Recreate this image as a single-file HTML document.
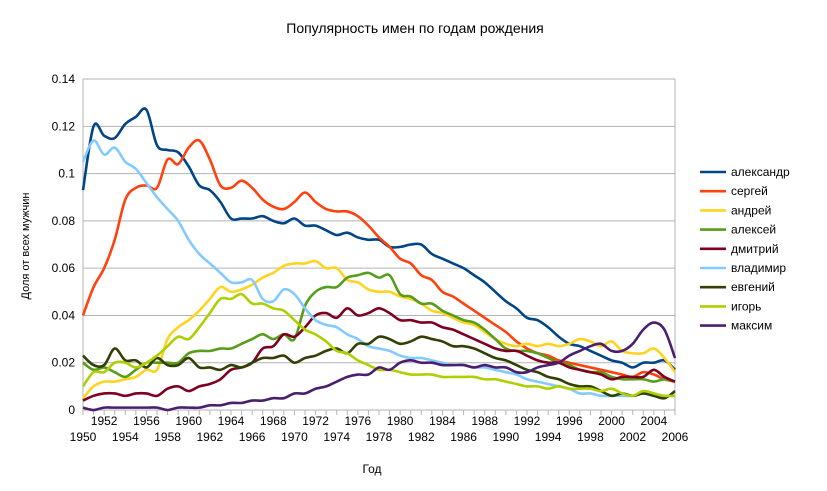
<!DOCTYPE html>
<html><head><meta charset="utf-8"><style>
body{margin:0;background:#fff;font-family:"Liberation Sans",sans-serif}
svg text{font-family:"Liberation Sans",sans-serif}
</style></head><body>
<svg id="s" width="827" height="486" xmlns="http://www.w3.org/2000/svg">
<rect width="827" height="486" fill="#fff"/>
<text x="415" y="33" font-size="14" text-anchor="middle">Популярность имен по годам рождения</text>
<text x="372" y="473" font-size="12" text-anchor="middle">Год</text>
<text transform="translate(29,246) rotate(-90)" font-size="11" text-anchor="middle">Доля от всех мужчин</text>
<g id="g"></g>
</svg>
<script>
var X0=83,X1=675,Y0=410,YS=2364;
function px(y){return X0+(y-1950)*(X1-X0)/56}
function py(v){return Y0-v*YS}
var g=document.getElementById('g'),h='';
for(var i=0;i<=7;i++){var y=py(i*0.02);h+='<line x1="'+X0+'" x2="'+X1+'" y1="'+y+'" y2="'+y+'" stroke="#b3b3b3"/>';
h+='<text x="75" y="'+(y+4)+'" font-size="12" text-anchor="end">'+(i==0?'0':(i*0.02).toFixed(2).replace(/0$/,''))+'</text>';}
h+='<line x1="'+X0+'" x2="'+X0+'" y1="'+py(0.14)+'" y2="'+(Y0+5)+'" stroke="#b3b3b3"/>';
h+='<line x1="'+X1+'" x2="'+X1+'" y1="'+py(0.14)+'" y2="'+(Y0+5)+'" stroke="#b3b3b3"/>';
for(var yr=1950;yr<=2006;yr++){var x=px(yr);h+='<line x1="'+x+'" x2="'+x+'" y1="'+Y0+'" y2="'+(Y0+5)+'" stroke="#b3b3b3"/>';
if(yr%2==0){var row=((yr-1950)/2)%2==0?441:425;h+='<text x="'+x+'" y="'+row+'" font-size="12" text-anchor="middle">'+yr+'</text>';}}
var D={
'александр':['#004586',[.093,.12,.116,.115,.121,.124,.127,.112,.11,.109,.103,.095,.093,.088,.081,.081,.081,.082,.080,.079,.081,.078,.078,.076,.074,.075,.073,.072,.072,.069,.069,.070,.070,.066,.064,.062,.060,.057,.054,.050,.046,.043,.039,.038,.035,.031,.028,.027,.025,.023,.021,.020,.018,.020,.020,.021,.017]],
'сергей':['#ff420e',[.040,.052,.060,.072,.089,.094,.095,.094,.106,.104,.111,.114,.106,.095,.094,.097,.094,.089,.086,.085,.088,.092,.088,.085,.084,.084,.082,.078,.073,.069,.064,.062,.057,.055,.050,.048,.045,.042,.039,.036,.033,.029,.026,.024,.023,.021,.020,.019,.018,.017,.016,.015,.014,.016,.015,.013,.012]],
'андрей':['#ffd320',[.005,.010,.012,.012,.013,.014,.017,.017,.030,.035,.038,.042,.047,.052,.050,.051,.053,.056,.058,.061,.062,.062,.063,.060,.060,.055,.054,.051,.050,.050,.048,.047,.045,.042,.041,.039,.037,.036,.033,.030,.028,.027,.028,.027,.028,.027,.028,.030,.029,.027,.029,.025,.024,.024,.026,.022,.016]],
'алексей':['#579d1c',[.020,.017,.018,.016,.014,.017,.020,.020,.020,.020,.024,.025,.025,.026,.026,.028,.030,.032,.030,.032,.030,.044,.050,.052,.052,.056,.057,.058,.056,.057,.049,.048,.045,.045,.042,.040,.038,.037,.034,.030,.026,.025,.025,.024,.022,.020,.019,.017,.016,.016,.014,.013,.013,.013,.012,.013,.012]],
'дмитрий':['#7e0021',[.004,.006,.007,.007,.006,.007,.007,.006,.009,.010,.008,.010,.011,.013,.017,.018,.020,.026,.027,.032,.031,.035,.040,.041,.039,.043,.040,.041,.043,.041,.038,.038,.037,.037,.035,.034,.032,.030,.028,.026,.025,.025,.023,.021,.020,.020,.018,.017,.016,.015,.013,.014,.014,.014,.017,.014,.012]],
'владимир':['#83caff',[.105,.114,.108,.111,.105,.102,.096,.090,.085,.080,.072,.066,.062,.058,.054,.054,.055,.047,.046,.051,.049,.043,.038,.036,.035,.032,.030,.027,.026,.025,.023,.022,.022,.021,.020,.019,.019,.018,.018,.017,.016,.015,.013,.012,.011,.010,.009,.007,.007,.006,.006,.006,.006,.007,.006,.006,.006]],
'евгений':['#314004',[.023,.019,.019,.026,.021,.021,.018,.022,.019,.019,.022,.018,.018,.017,.019,.018,.020,.022,.022,.023,.020,.022,.023,.025,.026,.024,.028,.028,.031,.030,.028,.029,.031,.030,.029,.027,.027,.026,.024,.022,.021,.019,.017,.016,.014,.013,.011,.010,.010,.008,.006,.007,.006,.007,.006,.005,.008]],
'игорь':['#aecf00',[.010,.016,.016,.020,.020,.018,.020,.023,.027,.031,.030,.035,.041,.047,.047,.049,.045,.045,.043,.042,.038,.034,.032,.029,.025,.024,.021,.019,.017,.017,.016,.015,.015,.015,.014,.014,.014,.014,.013,.013,.012,.011,.010,.010,.009,.010,.009,.009,.009,.008,.009,.007,.006,.008,.007,.006,.006]],
'максим':['#4b1f6f',[.001,0,.001,.001,.001,.001,.001,.001,0,.001,.001,.001,.002,.002,.003,.003,.004,.004,.005,.005,.007,.007,.009,.010,.012,.014,.015,.015,.018,.017,.020,.021,.020,.020,.019,.019,.019,.018,.019,.018,.018,.016,.016,.018,.019,.020,.023,.025,.027,.028,.025,.025,.028,.034,.037,.034,.022]]};
var k=0;
for(var n in D){var c=D[n][0],v=D[n][1],p=v.map(function(a,i){return[px(1950+i),py(a)]});
var d='M'+p[0][0]+','+p[0][1];
for(var i=0;i<p.length-1;i++){var p0=p[i-1]||p[i],p1=p[i],p2=p[i+1],p3=p[i+2]||p2;
d+='C'+(p1[0]+(p2[0]-p0[0])/6)+','+(p1[1]+(p2[1]-p0[1])/6)+' '+(p2[0]-(p3[0]-p1[0])/6)+','+(p2[1]-(p3[1]-p1[1])/6)+' '+p2[0]+','+p2[1];}
h+='<path d="'+d+'" fill="none" stroke="'+c+'" stroke-width="2.6" stroke-linejoin="round"/>';
var ly=172+k*19.2;h+='<line x1="700" x2="726" y1="'+ly+'" y2="'+ly+'" stroke="'+c+'" stroke-width="2.6"/><text x="731" y="'+(ly+4)+'" font-size="12">'+n+'</text>';k++;}
g.innerHTML=h;
</script>
</body></html>
